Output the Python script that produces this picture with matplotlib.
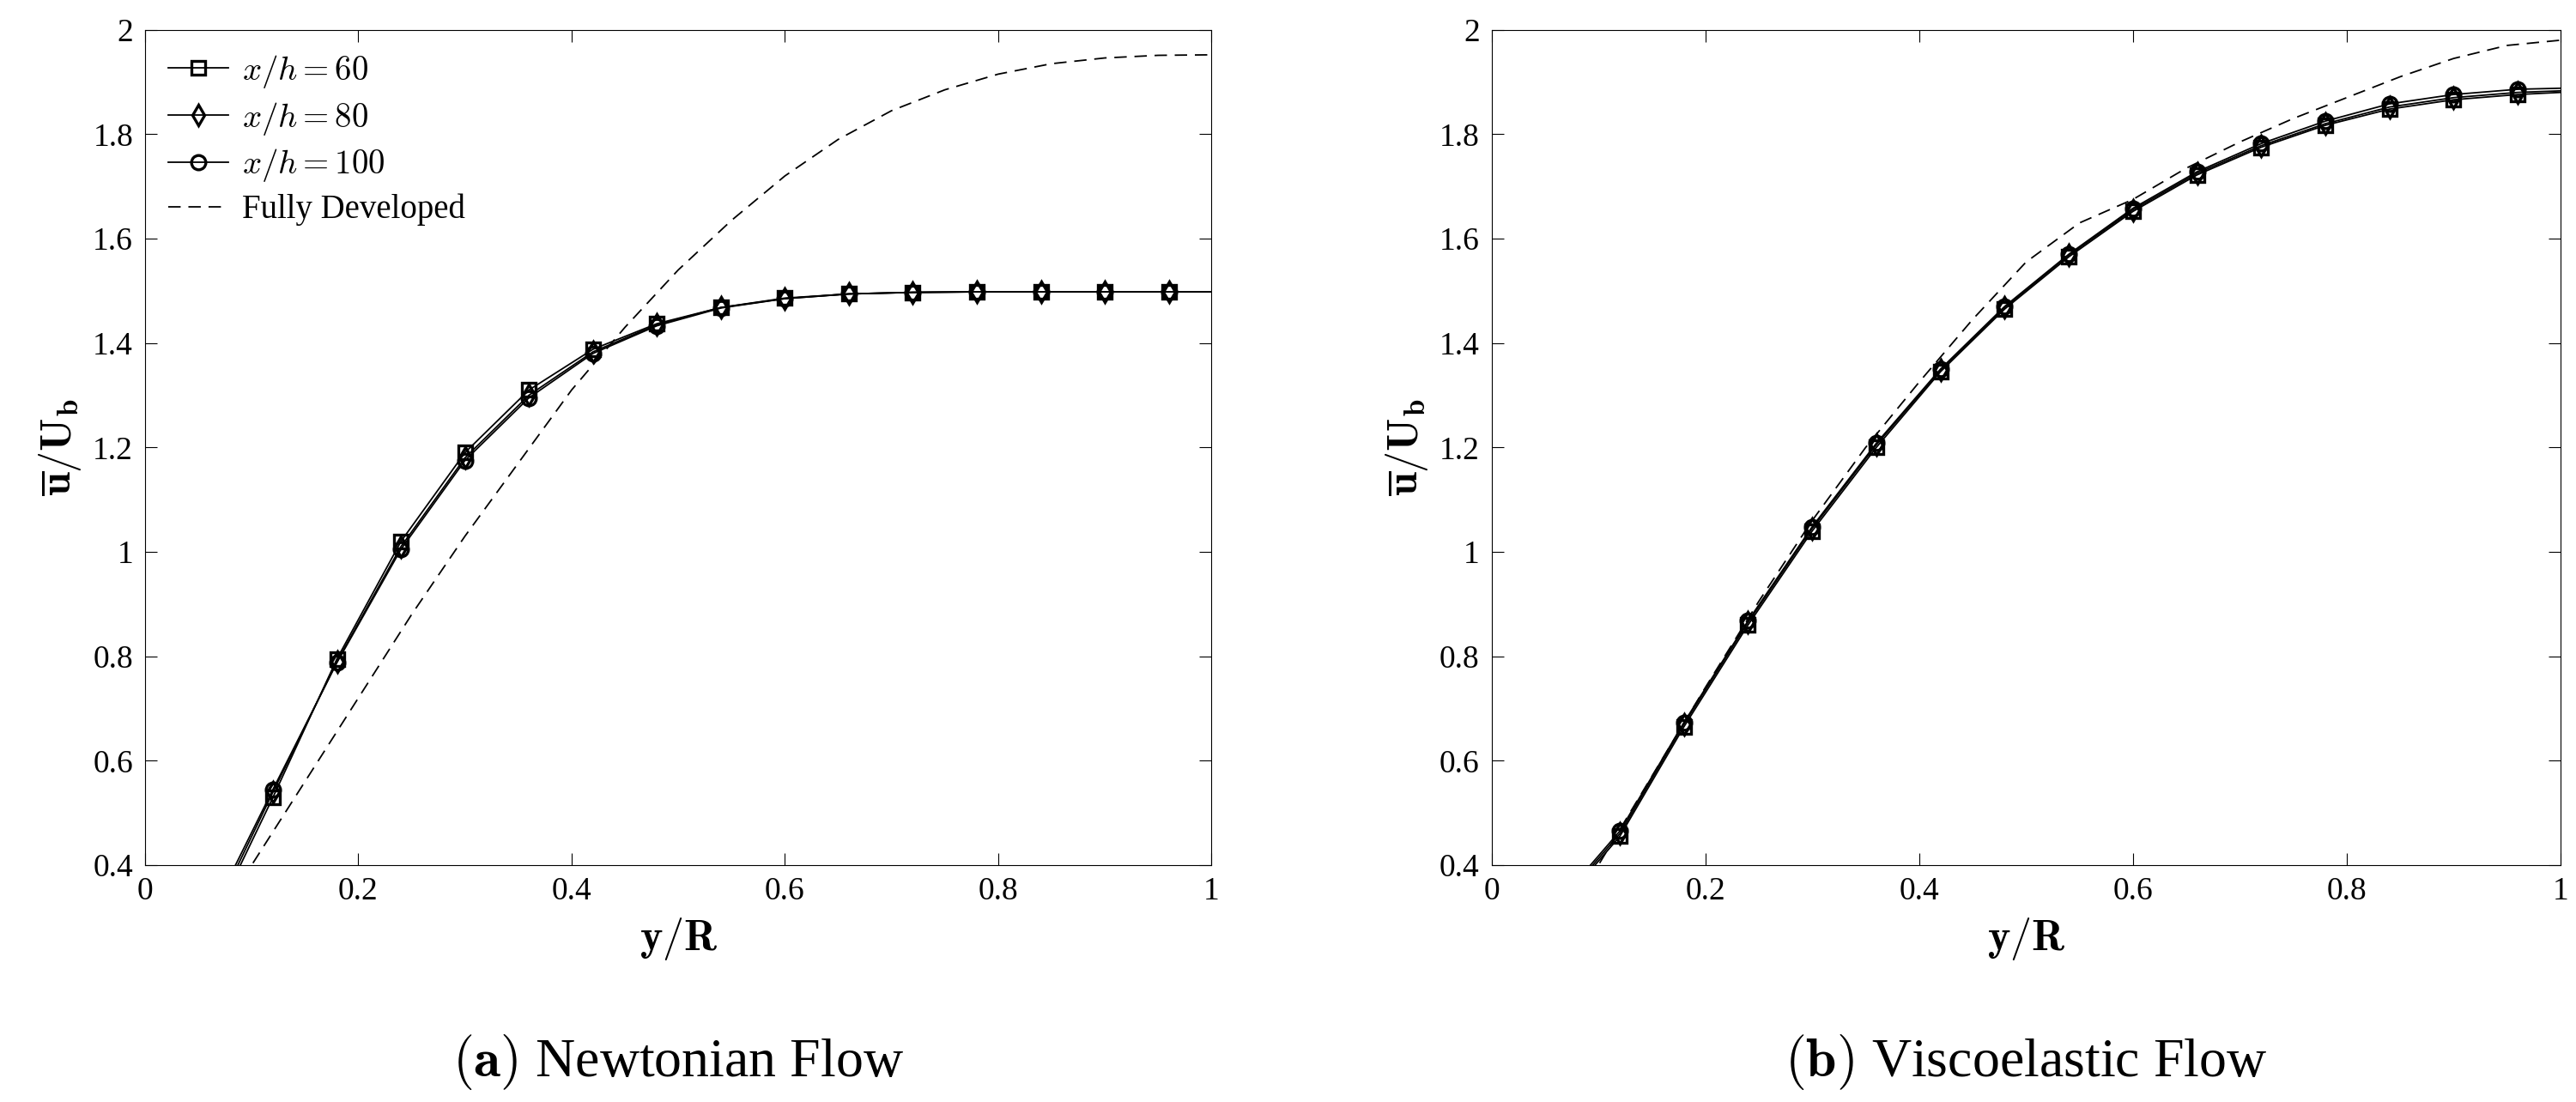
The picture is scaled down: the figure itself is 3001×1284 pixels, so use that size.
import numpy as np
import matplotlib
matplotlib.use("Agg")
import matplotlib.pyplot as plt

plt.rcParams['font.family'] = ['Liberation Serif', 'DejaVu Serif']
plt.rcParams['mathtext.fontset'] = 'cm'

xm = [0.08, 0.12, 0.18, 0.24, 0.30, 0.36, 0.42, 0.48, 0.54, 0.60, 0.66, 0.72, 0.78, 0.84, 0.90, 0.96, 1.0]
newt_60 = [0.36, 0.53, 0.795, 1.02, 1.19, 1.31, 1.388, 1.437, 1.468, 1.486, 1.494, 1.497, 1.498, 1.498, 1.498, 1.498, 1.498]
newt_80 = [0.37, 0.54, 0.790, 1.01, 1.18, 1.30, 1.383, 1.435, 1.468, 1.485, 1.494, 1.497, 1.498, 1.498, 1.498, 1.498, 1.498]
newt_100 = [0.38, 0.545, 0.788, 1.005, 1.175, 1.295, 1.380, 1.433, 1.467, 1.485, 1.494, 1.497, 1.498, 1.498, 1.498, 1.498, 1.498]
xfd = [0.08, 0.1, 0.15, 0.2, 0.25, 0.3, 0.35, 0.4, 0.45, 0.5, 0.55, 0.6, 0.65, 0.7, 0.75, 0.8, 0.85, 0.9, 0.95, 1.0]
newt_fd = [0.34, 0.40, 0.56, 0.72, 0.88, 1.03, 1.17, 1.31, 1.43, 1.54, 1.635, 1.72, 1.79, 1.845, 1.885, 1.915, 1.935, 1.946, 1.951, 1.952]
visc_60 = [0.36, 0.455, 0.665, 0.86, 1.04, 1.20, 1.345, 1.465, 1.565, 1.652, 1.722, 1.775, 1.817, 1.848, 1.866, 1.876, 1.880]
visc_80 = [0.365, 0.46, 0.67, 0.865, 1.045, 1.205, 1.348, 1.468, 1.568, 1.655, 1.725, 1.778, 1.820, 1.852, 1.870, 1.880, 1.883]
visc_100 = [0.37, 0.465, 0.673, 0.868, 1.048, 1.208, 1.350, 1.470, 1.570, 1.658, 1.728, 1.782, 1.825, 1.858, 1.876, 1.886, 1.888]
visc_fd = [0.34, 0.40, 0.57, 0.74, 0.905, 1.06, 1.20, 1.325, 1.445, 1.555, 1.63, 1.675, 1.735, 1.785, 1.83, 1.87, 1.91, 1.945, 1.97, 1.98]

fig = plt.figure(figsize=(30.01, 12.84), dpi=100)
axes = [fig.add_axes([0.0563, 0.215, 0.414, 0.758]),
        fig.add_axes([0.579, 0.215, 0.415, 0.758])]
sets = [(newt_60, newt_80, newt_100, newt_fd, r'$\mathbf{(a)}$ Newtonian Flow'),
        (visc_60, visc_80, visc_100, visc_fd, r'$\mathbf{(b)}$ Viscoelastic Flow')]
for ax, (a, b, c, fd, cap) in zip(axes, sets):
    kw = dict(color='k', lw=1.3, mfc='none', mew=2.4, ms=12, markevery=list(range(1, len(xm) - 1)))
    ax.plot(xm, a, marker='s', label=r'$x/h=60$', **kw)
    ax.plot(xm, b, marker='d', label=r'$x/h=80$', **kw)
    ax.plot(xm, c, marker='o', label=r'$x/h=100$', **kw)
    ax.plot(xfd, fd, 'k--', lw=1.3, dashes=(8, 5), label='Fully Developed')
    ax.set_xlim(0, 1)
    ax.set_ylim(0.4, 2)
    ax.set_xticks(np.arange(0, 1.01, 0.2))
    ax.set_xticklabels(['0', '0.2', '0.4', '0.6', '0.8', '1'])
    ax.set_yticks(np.arange(0.4, 2.01, 0.2))
    ax.set_yticklabels(['0.4', '0.6', '0.8', '1', '1.2', '1.4', '1.6', '1.8', '2'])
    ax.tick_params(direction='in', top=True, right=True, labelsize=27, length=10, pad=10)
    ax.set_xlabel(r'$\mathbf{y/R}$', fontsize=36, labelpad=8)
    ax.set_ylabel(r'$\overline{\mathbf{u}}/\mathbf{U_b}$', fontsize=36, labelpad=8)
    ax.text(0.5, -0.2, cap, transform=ax.transAxes, ha='center', va='top', fontsize=46)
axes[0].legend(loc='upper left', fontsize=28, frameon=False, handlelength=1.8,
               borderaxespad=0.3, labelspacing=0.3, handletextpad=0.4)
fig.savefig('out.png', dpi=100)
